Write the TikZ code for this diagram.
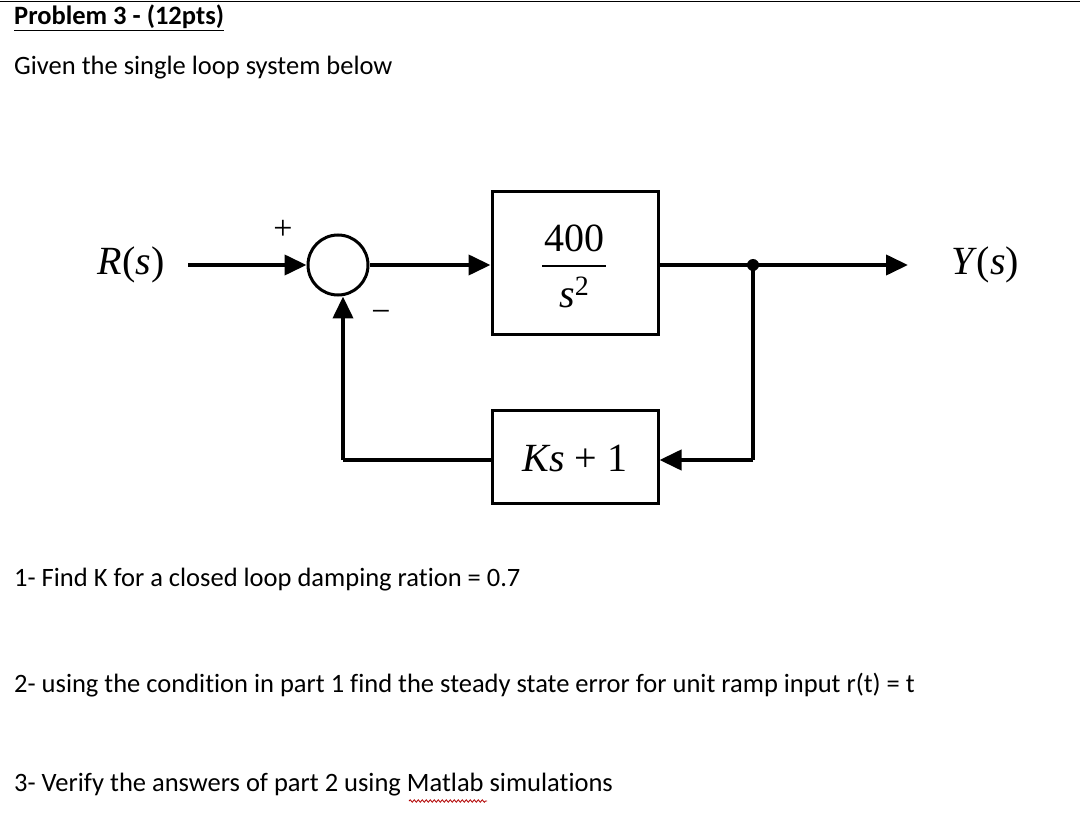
\documentclass[tikz,border=0pt]{standalone}
\usepackage{fontspec}
\setmainfont[Ligatures=NoCommon]{Carlito}
\newfontfamily\tms{Liberation Serif}
\usetikzlibrary{arrows.meta,decorations.pathmorphing}
\begin{document}
\begin{tikzpicture}[x=1pt,y=-1pt,
  txt/.style={anchor=west,inner sep=0pt,font=\fontsize{26.5}{30}\selectfont},
  blk/.style={draw,line width=3pt,inner sep=0pt},
  sig/.style={line width=4pt,-{Triangle[length=22pt,width=20pt]}},
  ln/.style={line width=4pt},
  dia/.style={inner sep=0pt,font=\tms\fontsize{40}{44}\selectfont}]
\useasboundingbox (0,0) rectangle (1080,829);
\fill[white] (0,0) rectangle (1080,829);
\draw[line width=1pt] (0,2) -- (1080,2);
\node[txt,font=\bfseries\fontsize{26.5}{30}\selectfont] (title) at (14,18) {\underline{Problem 3 - (12pts)}};
\node[txt] (given) at (14,68) {Given the single loop system below};
\node[dia] (R) at (131,265) {\textit{R}(\textit{s})};
\node[dia] (Y) at (985,265) {\textit{Y}(\textit{s})};
\node[draw,circle,line width=3pt,minimum size=60pt,inner sep=0pt] (sum) at (338,265) {};
\node[font=\tms\fontsize{34}{34}\selectfont] (plus) at (283,230) {+};
\node[font=\tms\fontsize{34}{34}\selectfont] (minus) at (381,316) {−};
\node[blk,minimum width=166pt,minimum height=143pt] (G) at (575,263.5) {};
\node[dia] (num) at (574,238) {400};
\draw[line width=2pt] (542,266) -- (606,266);
\node[dia] (den) at (574,292) {\textit{s}\raisebox{12pt}{\fontsize{28}{30}\selectfont 2}};
\node[blk,minimum width=166pt,minimum height=93pt] (H) at (575,456.5) {};
\node[dia] (Ht) at (575,458) {\textit{Ks} + 1};
\coordinate (rin) at (188,265);
\coordinate (out) at (908,265);
\coordinate (tap) at (753,265);
\coordinate (tapd) at (753,460);
\coordinate (fbl) at (343,460);
\draw[sig] (rin) -- (sum.west);
\draw[sig] (sum.east) -- (G.west |- sum.east);
\draw[sig] (G.east |- tap) -- (out);
\fill (tap) circle (6pt);
\draw[ln] (tap) -- (tapd);
\draw[sig] (tapd) -- (H.east |- tapd);
\draw[ln] (H.west |- fbl) -- (fbl);
\draw[sig] (fbl) -- (sum.south -| fbl);
\node[txt] (q1) at (14,580) {1- Find K for a closed loop damping ration = 0.7};
\node[txt] (q2) at (14,685) {2- using the condition in part 1 find the steady state error for unit ramp input r(t) = t};
\node[txt] (q3) at (14,785) {3- Verify the answers of part 2 using Matlab simulations};
\coordinate (w1) at (409,801);
\coordinate (w2) at (487,801);
\draw[red!70!black,line width=0.8pt,decorate,decoration={snake,amplitude=1.2pt,segment length=4pt}] (w1) -- (w2);
\end{tikzpicture}
\end{document}
